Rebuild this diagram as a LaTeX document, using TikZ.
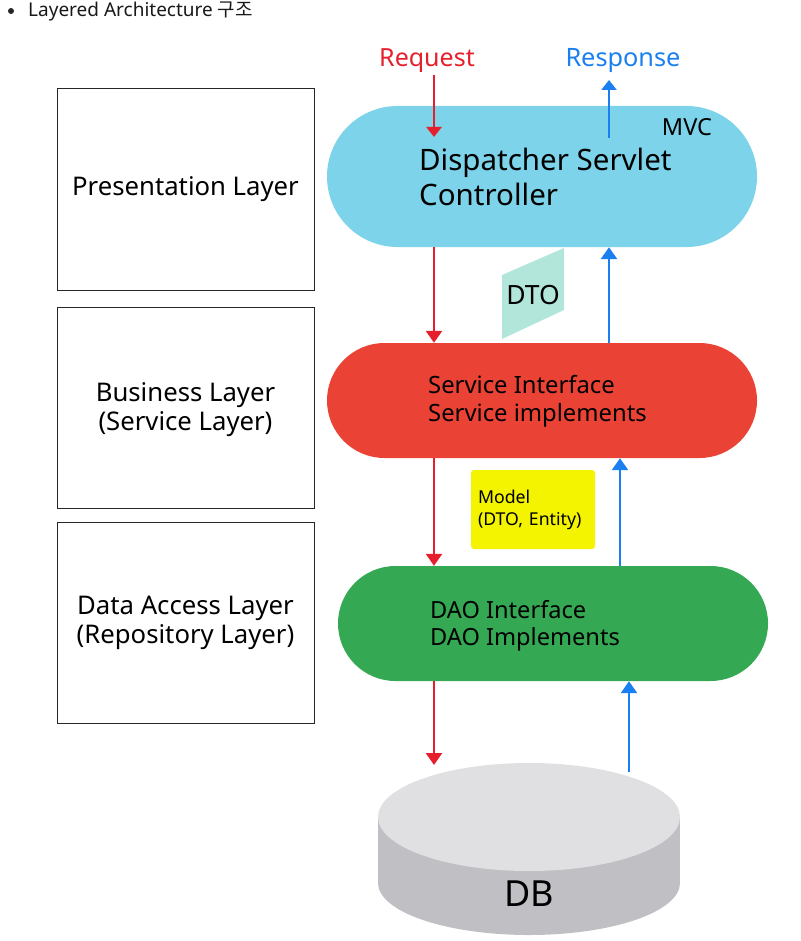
\documentclass[tikz,border=0pt]{standalone}
\usepackage{fontspec}
\setmainfont{Noto Sans}
\newfontfamily\krfont{Noto Sans CJK KR}
\usetikzlibrary{arrows.meta,shapes.misc}
\definecolor{ctrlblue}{HTML}{7DD3E9}
\definecolor{svcred}{HTML}{EA4335}
\definecolor{daogreen}{HTML}{34A853}
\definecolor{reqred}{HTML}{E5202C}
\definecolor{respblue}{HTML}{1A7FF0}
\definecolor{dtogreen}{HTML}{B3E6DB}
\definecolor{modelyellow}{HTML}{F4F400}
\definecolor{dbtop}{HTML}{E0DFE1}
\definecolor{dbside}{HTML}{C0BFC3}
\begin{document}
\begin{tikzpicture}[x=1pt,y=-1pt,>={Triangle[width=16pt,length=12pt]},
  layer/.style={draw=black!85,line width=1pt,minimum width=257pt,minimum height=201pt,align=center,font=\fontsize{25.7}{29}\selectfont},
  pill/.style={rounded rectangle,minimum width=430pt,inner sep=0pt},
  pilltext/.style={anchor=west,align=left,inner sep=0pt},
  req/.style={->,reqred,line width=2.6pt},
  resp/.style={->,respblue,line width=2.6pt}]
\useasboundingbox (0,0) rectangle (800,941);
\fill[black!85] (11,11) circle (3pt);
\node[anchor=west,inner sep=0pt,font=\fontsize{19}{22}\selectfont,text=black!90] (title) at (28,11) {Layered Architecture {\krfont 구조}};
\node[layer] (pres) at (185.5,189.5) {Presentation Layer};
\node[layer,text depth=2pt] (biz) at (185.5,407.5) {Business Layer\\(Service Layer)};
\node[layer] (data) at (185.5,622.5) {Data Access Layer\\(Repository Layer)};
\node[pill,fill=ctrlblue,minimum height=141pt] (ctrl) at (542,176.5) {};
\node[pill,fill=svcred,minimum height=115pt] (svc) at (542,400.5) {};
\node[pill,fill=daogreen,minimum height=115pt] (dao) at (553,623.5) {};
\node[pilltext,font=\fontsize{29.5}{35}\selectfont] (ctrltxt) at (419,177) {Dispatcher Servlet\\Controller};
\node[pilltext,font=\fontsize{23.8}{27.5}\selectfont] (svctxt) at (428,401) {Service Interface\\Service implements};
\node[pilltext,font=\fontsize{23.6}{27.5}\selectfont] (daotxt) at (430,626) {DAO Interface\\DAO Implements};
\node[font=\fontsize{23.5}{26}\selectfont] (mvc) at (687,127) {MVC};
\node[text=reqred,font=\fontsize{25}{28}\selectfont] (request) at (427,61) {Request};
\node[text=respblue,font=\fontsize{25.3}{28}\selectfont] (response) at (623,61) {Response};
\fill[dtogreen] (502,275) -- (564,248) -- (564,310) -- (502,339) -- cycle;
\node[font=\fontsize{26.5}{28}\selectfont] (dto) at (533,295) {DTO};
\node[fill=modelyellow,rounded corners=3pt,minimum width=124pt,minimum height=79pt,text width=110pt,inner xsep=7pt,align=left,font=\fontsize{17.7}{22}\selectfont] (model) at (533,509.5) {Model\\(DTO, Entity)};
\fill[dbside] (529,883) ellipse[x radius=151,y radius=52];
\fill[dbside] (378,817) rectangle (680,883);
\fill[dbtop] (529,817) ellipse[x radius=151,y radius=54];
\node[font=\fontsize{36}{40}\selectfont] (db) at (529,894) {DB};
\coordinate (reqin) at (434,75);
\coordinate (reqend) at (434,137);
\coordinate (respout) at (609,138);
\coordinate (respend) at (609,80);
\coordinate (upx) at (620,0);
\coordinate (dbin) at (434,765);
\coordinate (dbout) at (629,772);
\draw[req,>={Triangle[width=15pt,length=10pt]}] (reqin) -- (reqend);
\draw[resp,>={Triangle[width=15pt,length=10pt]}] (respout) -- (respend);
\draw[req] (ctrl.south -| reqin) -- (svc.north -| reqin);
\draw[req] (svc.south -| reqin) -- (dao.north -| reqin);
\draw[req] (dao.south -| reqin) -- (dbin);
\draw[resp] (svc.north -| respout) -- (ctrl.south -| respout);
\draw[resp] (dao.north -| upx) -- (svc.south -| upx);
\draw[resp] (dbout) -- (dao.south -| dbout);
\end{tikzpicture}
\end{document}
